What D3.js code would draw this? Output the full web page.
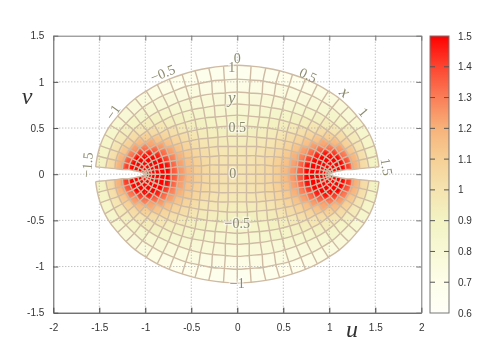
<!DOCTYPE html>
<html>
<head>
<meta charset="utf-8">
<script src="https://cdn.jsdelivr.net/npm/d3@7"></script>
<style>
    html, body { margin: 0; padding: 0; background: #fff; }
    svg { display: block; filter: blur(0.3px); }
    .tick text { font-family: "Liberation Sans", Arial, sans-serif; font-size: 10px; fill: #333; }
    .inner text { font-family: "Liberation Serif", "Times New Roman", serif; font-size: 14px; fill: #8b8b6e; }
</style>
</head>
<body>
<svg id="chart" width="500" height="359"></svg>
<script>
// mesh nodes of the upper right quarter, estimated against the picture
// rows: y = 0 .. 1 in 0.1 steps, columns: x = 0 .. 1.5 in 0.1 steps
const uNodes = [
    [0,.10,.20,.30,.39,.48,.56,.64,.72,.78,.84,.89,.93,.96,.99,1.00],
    [0,.10,.20,.30,.39,.48,.57,.65,.72,.79,.85,.90,.94,.97,.99,1.00],
    [0,.10,.20,.30,.40,.49,.58,.66,.73,.80,.86,.91,.95,.98,1.01,1.02],
    [0,.10,.21,.31,.41,.50,.59,.67,.75,.82,.88,.93,.97,1.01,1.03,1.04],
    [0,.11,.21,.32,.42,.52,.61,.70,.78,.85,.91,.96,1.01,1.04,1.07,1.08],
    [0,.11,.22,.33,.44,.54,.64,.73,.81,.88,.95,1.01,1.05,1.09,1.11,1.13],
    [0,.12,.24,.35,.46,.57,.67,.76,.85,.93,1.00,1.06,1.10,1.14,1.17,1.18],
    [0,.13,.25,.37,.49,.60,.71,.81,.90,.98,1.06,1.12,1.17,1.21,1.24,1.25],
    [0,.13,.27,.40,.52,.64,.75,.86,.96,1.05,1.13,1.19,1.25,1.29,1.32,1.33],
    [0,.14,.28,.42,.56,.69,.81,.92,1.03,1.12,1.21,1.28,1.34,1.38,1.41,1.43],
    [0,.15,.31,.46,.60,.74,.87,.99,1.11,1.21,1.30,1.38,1.44,1.49,1.52,1.54]
];
const vNodes = [
    [0,0,0,0,0,0,0,0,0,0,0,0,0,0,0,0],
    [.10,.10,.10,.10,.09,.09,.08,.08,.07,.06,.05,.05,.04,.03,.02,.01],
    [.20,.20,.20,.19,.19,.18,.17,.15,.14,.13,.11,.09,.07,.05,.03,.01],
    [.30,.30,.30,.29,.28,.27,.25,.23,.21,.19,.16,.14,.11,.08,.05,.02],
    [.41,.41,.40,.39,.38,.36,.34,.31,.29,.26,.22,.19,.15,.11,.07,.03],
    [.52,.52,.51,.50,.48,.46,.43,.40,.36,.32,.28,.24,.19,.14,.09,.04],
    [.64,.63,.62,.61,.59,.56,.53,.49,.44,.40,.34,.29,.23,.17,.11,.05],
    [.76,.75,.74,.72,.70,.67,.63,.58,.53,.47,.41,.34,.27,.20,.13,.05],
    [.89,.88,.87,.85,.82,.78,.73,.68,.62,.55,.48,.40,.32,.24,.15,.06],
    [1.03,1.02,1.01,.98,.95,.90,.85,.79,.72,.64,.55,.47,.37,.27,.17,.07],
    [1.18,1.17,1.15,1.12,1.08,1.03,.97,.90,.82,.73,.63,.53,.43,.31,.20,.08]
];

// colour value of each mesh cell (saturates at 1.5)
const cellValues = [
    [1.00,1.01,1.03,1.06,1.11,1.17,1.25,1.36,1.50,1.50,1.50,1.50,1.50,1.50,1.50],
    [.99,1.00,1.02,1.05,1.10,1.15,1.23,1.34,1.48,1.50,1.50,1.50,1.50,1.50,1.50],
    [.97,.98,1.00,1.03,1.07,1.12,1.20,1.29,1.41,1.50,1.50,1.50,1.50,1.50,1.50],
    [.94,.95,.97,.99,1.03,1.08,1.14,1.23,1.33,1.46,1.50,1.50,1.50,1.50,1.50],
    [.91,.92,.93,.95,.99,1.03,1.08,1.15,1.24,1.34,1.47,1.50,1.50,1.50,1.50],
    [.87,.87,.89,.91,.93,.97,1.02,1.07,1.14,1.22,1.31,1.41,1.50,1.50,1.50],
    [.82,.83,.84,.86,.88,.91,.94,.99,1.04,1.10,1.17,1.24,1.31,1.37,1.41],
    [.77,.78,.79,.80,.82,.84,.87,.91,.95,.99,1.04,1.09,1.13,1.18,1.20],
    [.72,.73,.73,.75,.76,.78,.80,.83,.86,.89,.93,.96,.99,1.02,1.04],
    [.67,.68,.68,.69,.70,.72,.74,.76,.78,.80,.83,.85,.87,.89,.90]
];

const colorValues = [0.6, 0.7, 0.8, 0.9, 1, 1.1, 1.2, 1.3, 1.4, 1.5];
const colorStops = ["#fffff8", "#fefeea", "#f8f8d6", "#f3f3c4", "#f5e3b0", "#f6d096", "#f7b27a", "#fa7e58", "#fc4530", "#ff0000"];

const uTicks = [-2, -1.5, -1, -0.5, 0, 0.5, 1, 1.5, 2];
const vTicks = [-1.5, -1, -0.5, 0, 0.5, 1, 1.5];

const xEdgeLabels = ["\u22121.5", "\u22121", "\u22120.5", "0", "0.5", "x", "1", "1.5"];
const xEdgeU = [-1.63, -1.35, -0.81, 0, 0.77, 1.17, 1.37, 1.62];
const xEdgeV = [0.10, 0.67, 1.09, 1.25, 1.07, 0.89, 0.67, 0.08];
const xEdgeAngle = [-85, -55, -22, 0, 25, 40, 50, 80];

const yInnerLabels = ["1", "y", "0.5", "0", "\u22120.5", "\u22121"];
const yInnerU = [-0.06, -0.06, 0, -0.05, 0, 0];
const yInnerV = [1.16, 0.83, 0.51, 0.01, -0.53, -1.18];

const svg = d3.select("#chart");

const xScale = d3.scaleLinear().domain([-2, 2]).range([53.3, 421.3]);
const yScale = d3.scaleLinear().domain([-1.5, 1.5]).range([312.7, 35.7]);
const colorScale = d3.scaleLinear().domain(colorValues).range(colorStops).clamp(true);
const barScale = d3.scaleLinear().domain([0.6, 1.5]).range([313, 36]);

const lastX = uNodes[0].length - 1;
const lastY = uNodes.length - 1;

// look up a node anywhere on the mesh by mirroring the quarter tables
function node(ix, iy){
    const u = Math.sign(ix) * uNodes[Math.abs(iy)][Math.abs(ix)];
    const v = Math.sign(iy) * vNodes[Math.abs(iy)][Math.abs(ix)];
    return [xScale(u), yScale(v)];
}

// cells
let cells = [];
for (let iy = -lastY; iy < lastY; iy++){
    for (let ix = -lastX; ix < lastX; ix++){
        let cx = ix < 0 ? -ix - 1 : ix;
        let cy = iy < 0 ? -iy - 1 : iy;
        cells.push({
            value: cellValues[cy][cx],
            corners: [node(ix, iy), node(ix + 1, iy), node(ix + 1, iy + 1), node(ix, iy + 1)]
        });
    }
}

const defs = svg.append("defs");
defs.append("filter").attr("id", "soft")
    .attr("x", "-5%").attr("y", "-5%").attr("width", "110%").attr("height", "110%")
    .append("feGaussianBlur").attr("stdDeviation", 1.5);

const grad = defs.append("linearGradient").attr("id", "barGrad")
    .attr("x1", 0).attr("y1", 1).attr("x2", 0).attr("y2", 0);
grad.selectAll("stop")
    .data(colorValues)
    .join("stop")
    .attr("offset", d => (d - 0.6) / 0.9)
    .attr("stop-color", d => colorScale(d));

function drawCells(parent){
    parent.selectAll("polygon")
        .data(cells)
        .join("polygon")
        .attr("points", d => d.corners.join(" "))
        .attr("fill", d => colorScale(d.value))
        .attr("stroke", d => colorScale(d.value))
        .attr("stroke-width", 0.6);
}

const line = d3.line().curve(d3.curveCatmullRom);

// outline keeps the blurred colours inside the mesh
let outline = [];
for (let ix = -lastX; ix <= lastX; ix++) outline.push(node(ix, lastY));
for (let iy = lastY - 1; iy >= -lastY; iy--) outline.push(node(lastX, iy));
for (let ix = lastX - 1; ix >= -lastX; ix--) outline.push(node(ix, -lastY));
for (let iy = -lastY + 1; iy < lastY; iy++) outline.push(node(-lastX, iy));
defs.append("clipPath").attr("id", "meshClip")
    .append("polygon").attr("points", outline.join(" "));

const field = svg.append("g").attr("clip-path", "url(#meshClip)");
drawCells(field.append("g"));
drawCells(field.append("g").attr("filter", "url(#soft)"));

// dotted grid
const gridColor = "#aaaaaa";
svg.append("g").selectAll("line")
    .data(uTicks.slice(1, -1))
    .join("line")
    .attr("x1", d => xScale(d)).attr("x2", d => xScale(d))
    .attr("y1", yScale(-1.5)).attr("y2", yScale(1.5))
    .attr("stroke", gridColor).attr("stroke-dasharray", "1,2");
svg.append("g").selectAll("line")
    .data(vTicks.slice(1, -1))
    .join("line")
    .attr("x1", xScale(-2)).attr("x2", xScale(2))
    .attr("y1", d => yScale(d)).attr("y2", d => yScale(d))
    .attr("stroke", gridColor).attr("stroke-dasharray", "1,2");

// mesh lines
const mesh = svg.append("g").attr("fill", "none")
    .attr("stroke", "#cfbba4").attr("stroke-width", 1.4);
for (let ix = -lastX; ix <= lastX; ix++){
    let pts = d3.range(-lastY, lastY + 1).map(iy => node(ix, iy));
    mesh.append("path").attr("d", line(pts));
}
for (let iy = -lastY; iy <= lastY; iy++){
    let pts = d3.range(-lastX, lastX + 1).map(ix => node(ix, iy));
    mesh.append("path").attr("d", line(pts));
}

// labels on the mesh
const inner = svg.append("g").attr("class", "inner");
inner.selectAll("text.xl")
    .data(xEdgeLabels)
    .join("text")
    .attr("class", "xl")
    .attr("text-anchor", "middle")
    .attr("dominant-baseline", "central")
    .attr("font-style", d => d === "x" ? "italic" : null)
    .style("font-size", d => d === "x" ? "17px" : null)
    .attr("transform", (d, i) => `translate(${xScale(xEdgeU[i])},${yScale(xEdgeV[i])}) rotate(${xEdgeAngle[i]})`)
    .text(d => d);
inner.selectAll("text.yl")
    .data(yInnerLabels)
    .join("text")
    .attr("class", "yl")
    .attr("text-anchor", "middle")
    .attr("dominant-baseline", "central")
    .attr("font-style", d => d === "y" ? "italic" : null)
    .style("font-size", d => d === "y" ? "17px" : null)
    .attr("stroke", "#ffffff").attr("stroke-opacity", 0.5).attr("stroke-width", 3)
    .attr("paint-order", "stroke")
    .attr("x", (d, i) => xScale(yInnerU[i]))
    .attr("y", (d, i) => yScale(yInnerV[i]))
    .text(d => d);

// axes
function styleAxis(g, color){
    g.selectAll(".domain").attr("stroke", color);
    g.selectAll(".tick line").attr("stroke", color);
}
const fmt = d => String(d);
svg.append("g").attr("transform", `translate(0,${yScale(-1.5)})`)
    .call(d3.axisBottom(xScale).tickValues(uTicks).tickFormat(fmt).tickSizeInner(-5).tickSizeOuter(0).tickPadding(11))
    .call(styleAxis, "#333");
svg.append("g").attr("transform", `translate(${xScale(-2)},0)`)
    .call(d3.axisLeft(yScale).tickValues(vTicks).tickFormat(fmt).tickSizeInner(-5).tickSizeOuter(0).tickPadding(9))
    .call(styleAxis, "#555");
svg.append("g").attr("transform", `translate(0,${yScale(1.5)})`)
    .call(d3.axisTop(xScale).tickValues(uTicks).tickFormat("").tickSizeInner(-5).tickSizeOuter(0))
    .call(styleAxis, "#777");
svg.append("g").attr("transform", `translate(${xScale(2)},0)`)
    .call(d3.axisRight(yScale).tickValues(vTicks).tickFormat("").tickSizeInner(-5).tickSizeOuter(0))
    .call(styleAxis, "#777");

svg.append("text").attr("x", 27).attr("y", 104).text("v")
    .attr("font-family", "Liberation Serif, serif").attr("font-style", "italic")
    .attr("font-size", 24).attr("text-anchor", "middle").attr("fill", "#333");
svg.append("text").attr("x", 352).attr("y", 337).text("u")
    .attr("font-family", "Liberation Serif, serif").attr("font-style", "italic")
    .attr("font-size", 24).attr("text-anchor", "middle").attr("fill", "#333");

// colour bar
const barLeft = 430, barRight = 449;
svg.append("rect")
    .attr("x", barLeft).attr("y", barScale(1.5))
    .attr("width", barRight - barLeft).attr("height", barScale(0.6) - barScale(1.5))
    .attr("fill", "url(#barGrad)").attr("stroke", "#777");
const barTicks = colorValues;
svg.append("g").selectAll("line")
    .data(barTicks.slice(1, -1))
    .join("line")
    .attr("x1", barLeft).attr("x2", barLeft + 5)
    .attr("y1", d => barScale(d)).attr("y2", d => barScale(d))
    .attr("stroke", "#555");
svg.append("g").selectAll("line")
    .data(barTicks.slice(1, -1))
    .join("line")
    .attr("x1", barRight - 5).attr("x2", barRight)
    .attr("y1", d => barScale(d)).attr("y2", d => barScale(d))
    .attr("stroke", "#555");
svg.append("g").attr("class", "tick").selectAll("text")
    .data(barTicks)
    .join("text")
    .attr("x", 458)
    .attr("y", d => barScale(d))
    .attr("dy", "0.35em")
    .text(d => d);
</script>
</body>
</html>
